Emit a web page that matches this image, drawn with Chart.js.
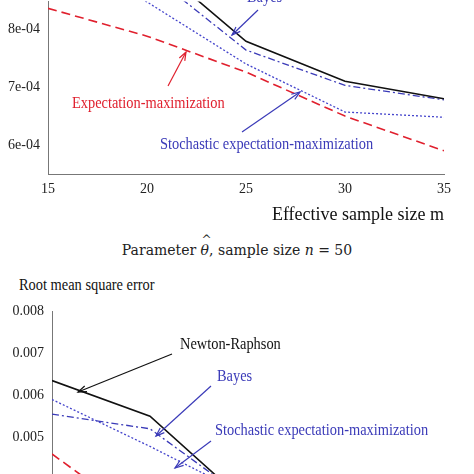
<!DOCTYPE html>
<html>
<head>
<meta charset="utf-8">
<script src="https://cdn.jsdelivr.net/npm/chart.js@4"></script>
<style>
  body { margin:0; width:474px; height:474px; overflow:hidden; background:#fff; position:relative; font-family:"Liberation Serif", serif; }
  canvas { position:absolute; left:0; }
  #title { position:absolute; top:242px; left:0; width:474px; text-align:center; font-family:"DejaVu Serif", serif; font-size:14px; color:#222; }
  .hat { position:relative; display:inline-block; }
  .hat::before { content:"^"; position:absolute; left:1px; top:-9px; font-style:normal; font-size:12px; }
  #ylab { position:absolute; top:276px; left:19px; font-size:16px; color:#111; transform:scaleX(0.9); transform-origin:left; }
</style>
</head>
<body>
<canvas id="top"></canvas>
<div id="title">Parameter <i class="hat">θ</i>, sample size <i>n</i> = 50</div>
<div id="ylab">Root mean square error</div>
<canvas id="bottom"></canvas>
<script>
// effective sample size m
const sizes = [15, 20, 25, 30, 35];

// upper panel (rmse, values beyond the top are clipped)
const topNR    = [1.00e-3, 9.24e-4, 7.79e-4, 7.10e-4, 6.80e-4];
const topBayes = [9.60e-4, 9.00e-4, 7.64e-4, 7.03e-4, 6.78e-4];
const topSEM   = [9.30e-4, 8.47e-4, 7.40e-4, 6.57e-4, 6.48e-4];
const topEM    = [8.36e-4, 7.88e-4, 7.26e-4, 6.50e-4, 5.90e-4];
const topTicks = [6e-4, 7e-4, 8e-4];
const topTickLabels = ['6e-04', '7e-04', '8e-04'];

// lower panel, theta hat, n = 50
const botNR    = [0.00635, 0.00550, 0.00340, 0.00280, 0.00250];
const botBayes = [0.00555, 0.00520, 0.00350, 0.00290, 0.00260];
const botSEM   = [0.00590, 0.00478, 0.00360, 0.00300, 0.00270];
const botEM    = [0.00460, 0.00290, 0.00250, 0.00220, 0.00200];
const botTicks = [0.005, 0.006, 0.007, 0.008];
const botTickLabels = ['0.005', '0.006', '0.007', '0.008'];

const blue = '#3a3ab8';
const red = '#e0202e';
const tickFont = { family: 'Liberation Serif', size: 14 };

function series(nr, bayes, sem, em) {
  return [
    { label: 'Newton-Raphson', data: nr, borderColor: '#111', borderWidth: 1.6 },
    { label: 'Bayes', data: bayes, borderColor: blue, borderWidth: 1.3, borderDash: [7, 3, 2, 3] },
    { label: 'Stochastic expectation-maximization', data: sem, borderColor: '#4545cc', borderWidth: 1.3, borderDash: [2, 2] },
    { label: 'Expectation-maximization', data: em, borderColor: red, borderWidth: 1.6, borderDash: [9, 5] }
  ].map(d => Object.assign(d, { pointRadius: 0, tension: 0, fill: false }));
}

// text labels with arrows
function notes(list) {
  return {
    id: 'notes',
    afterDraw(chart) {
      const c = chart.ctx;
      c.save();
      list.forEach(n => {
        c.font = '16px "Liberation Serif"';
        c.fillStyle = n.color;
        c.strokeStyle = n.color;
        c.textAlign = 'left';
        c.textBaseline = 'middle';
        c.save();
        c.translate(n.tx, n.ty);
        c.scale(0.9, 1);
        c.fillText(n.text, 0, 0);
        c.restore();
        const [x1, y1, x2, y2] = n.arrow;
        c.lineWidth = 1.2;
        c.setLineDash([]);
        c.beginPath(); c.moveTo(x1, y1); c.lineTo(x2, y2); c.stroke();
        const a = Math.atan2(y2 - y1, x2 - x1);
        c.beginPath();
        c.moveTo(x2 - 9 * Math.cos(a - 0.35), y2 - 9 * Math.sin(a - 0.35));
        c.lineTo(x2, y2);
        c.lineTo(x2 - 9 * Math.cos(a + 0.35), y2 - 9 * Math.sin(a + 0.35));
        c.stroke();
      });
      c.restore();
    }
  };
}

function makeChart(id, top, height, data, yMin, yMax, ticks, labels, yWidth, showX, noteList) {
  const el = document.getElementById(id);
  el.style.top = top + 'px';
  el.style.width = '474px';
  el.style.height = height + 'px';
  new Chart(el, {
    type: 'line',
    data: { labels: sizes, datasets: data },
    options: {
      responsive: false,
      maintainAspectRatio: false,
      animation: false,
      layout: { padding: { left: 0, right: 30, top: 0, bottom: 0 } },
      plugins: { legend: { display: false }, tooltip: { enabled: false } },
      scales: {
        x: {
          type: 'linear', min: 15, max: 35,
          grid: { display: false, drawTicks: true, tickLength: 5 },
          border: { color: '#777' },
          ticks: { stepSize: 5, color: '#222', font: tickFont, maxRotation: 0, padding: 2 },
          title: showX ? { display: true, text: 'Effective sample size m', align: 'end', color: '#111',
                           font: { family: 'Liberation Serif', size: 18 }, padding: { top: 0 } } : { display: false },
          afterFit(s) { s.height = 56; }
        },
        y: {
          min: yMin, max: yMax,
          grid: { display: false, drawTicks: true, tickLength: 5 },
          border: { color: '#777' },
          afterBuildTicks(s) { s.ticks = ticks.map(v => ({ value: v })); },
          ticks: { color: '#222', font: tickFont, padding: 3,
                   callback: (v) => labels[ticks.findIndex(t => Math.abs(t - v) < 1e-9)] },
          afterFit(s) { s.width = yWidth; }
        }
      }
    },
    plugins: [notes(noteList)]
  });
}

// top canvas shifted up so the plot area starts at the page edge
makeChart('top', -10, 240, series(topNR, topBayes, topSEM, topEM), 5.5e-4, 8.48e-4,
  topTicks, topTickLabels, 48, true, [
    { text: 'Bayes', color: blue, tx: 247, ty: 8, arrow: [258, 20, 232, 45] },
    { text: 'Expectation-maximization', color: red, tx: 72, ty: 114, arrow: [168, 96, 186, 62] },
    { text: 'Stochastic expectation-maximization', color: blue, tx: 160, ty: 155, arrow: [242, 142, 300, 102] }
  ]);

makeChart('bottom', 300, 340, series(botNR, botBayes, botSEM, botEM), 0.0015, 0.008,
  botTicks, botTickLabels, 52, false, [
    { text: 'Newton-Raphson', color: '#111', tx: 180, ty: 45, arrow: [172, 54, 78, 92] },
    { text: 'Bayes', color: blue, tx: 217, ty: 77, arrow: [211, 86, 156, 136] },
    { text: 'Stochastic expectation-maximization', color: blue, tx: 215, ty: 131, arrow: [211, 141, 175, 168] }
  ]);
</script>
</body>
</html>
